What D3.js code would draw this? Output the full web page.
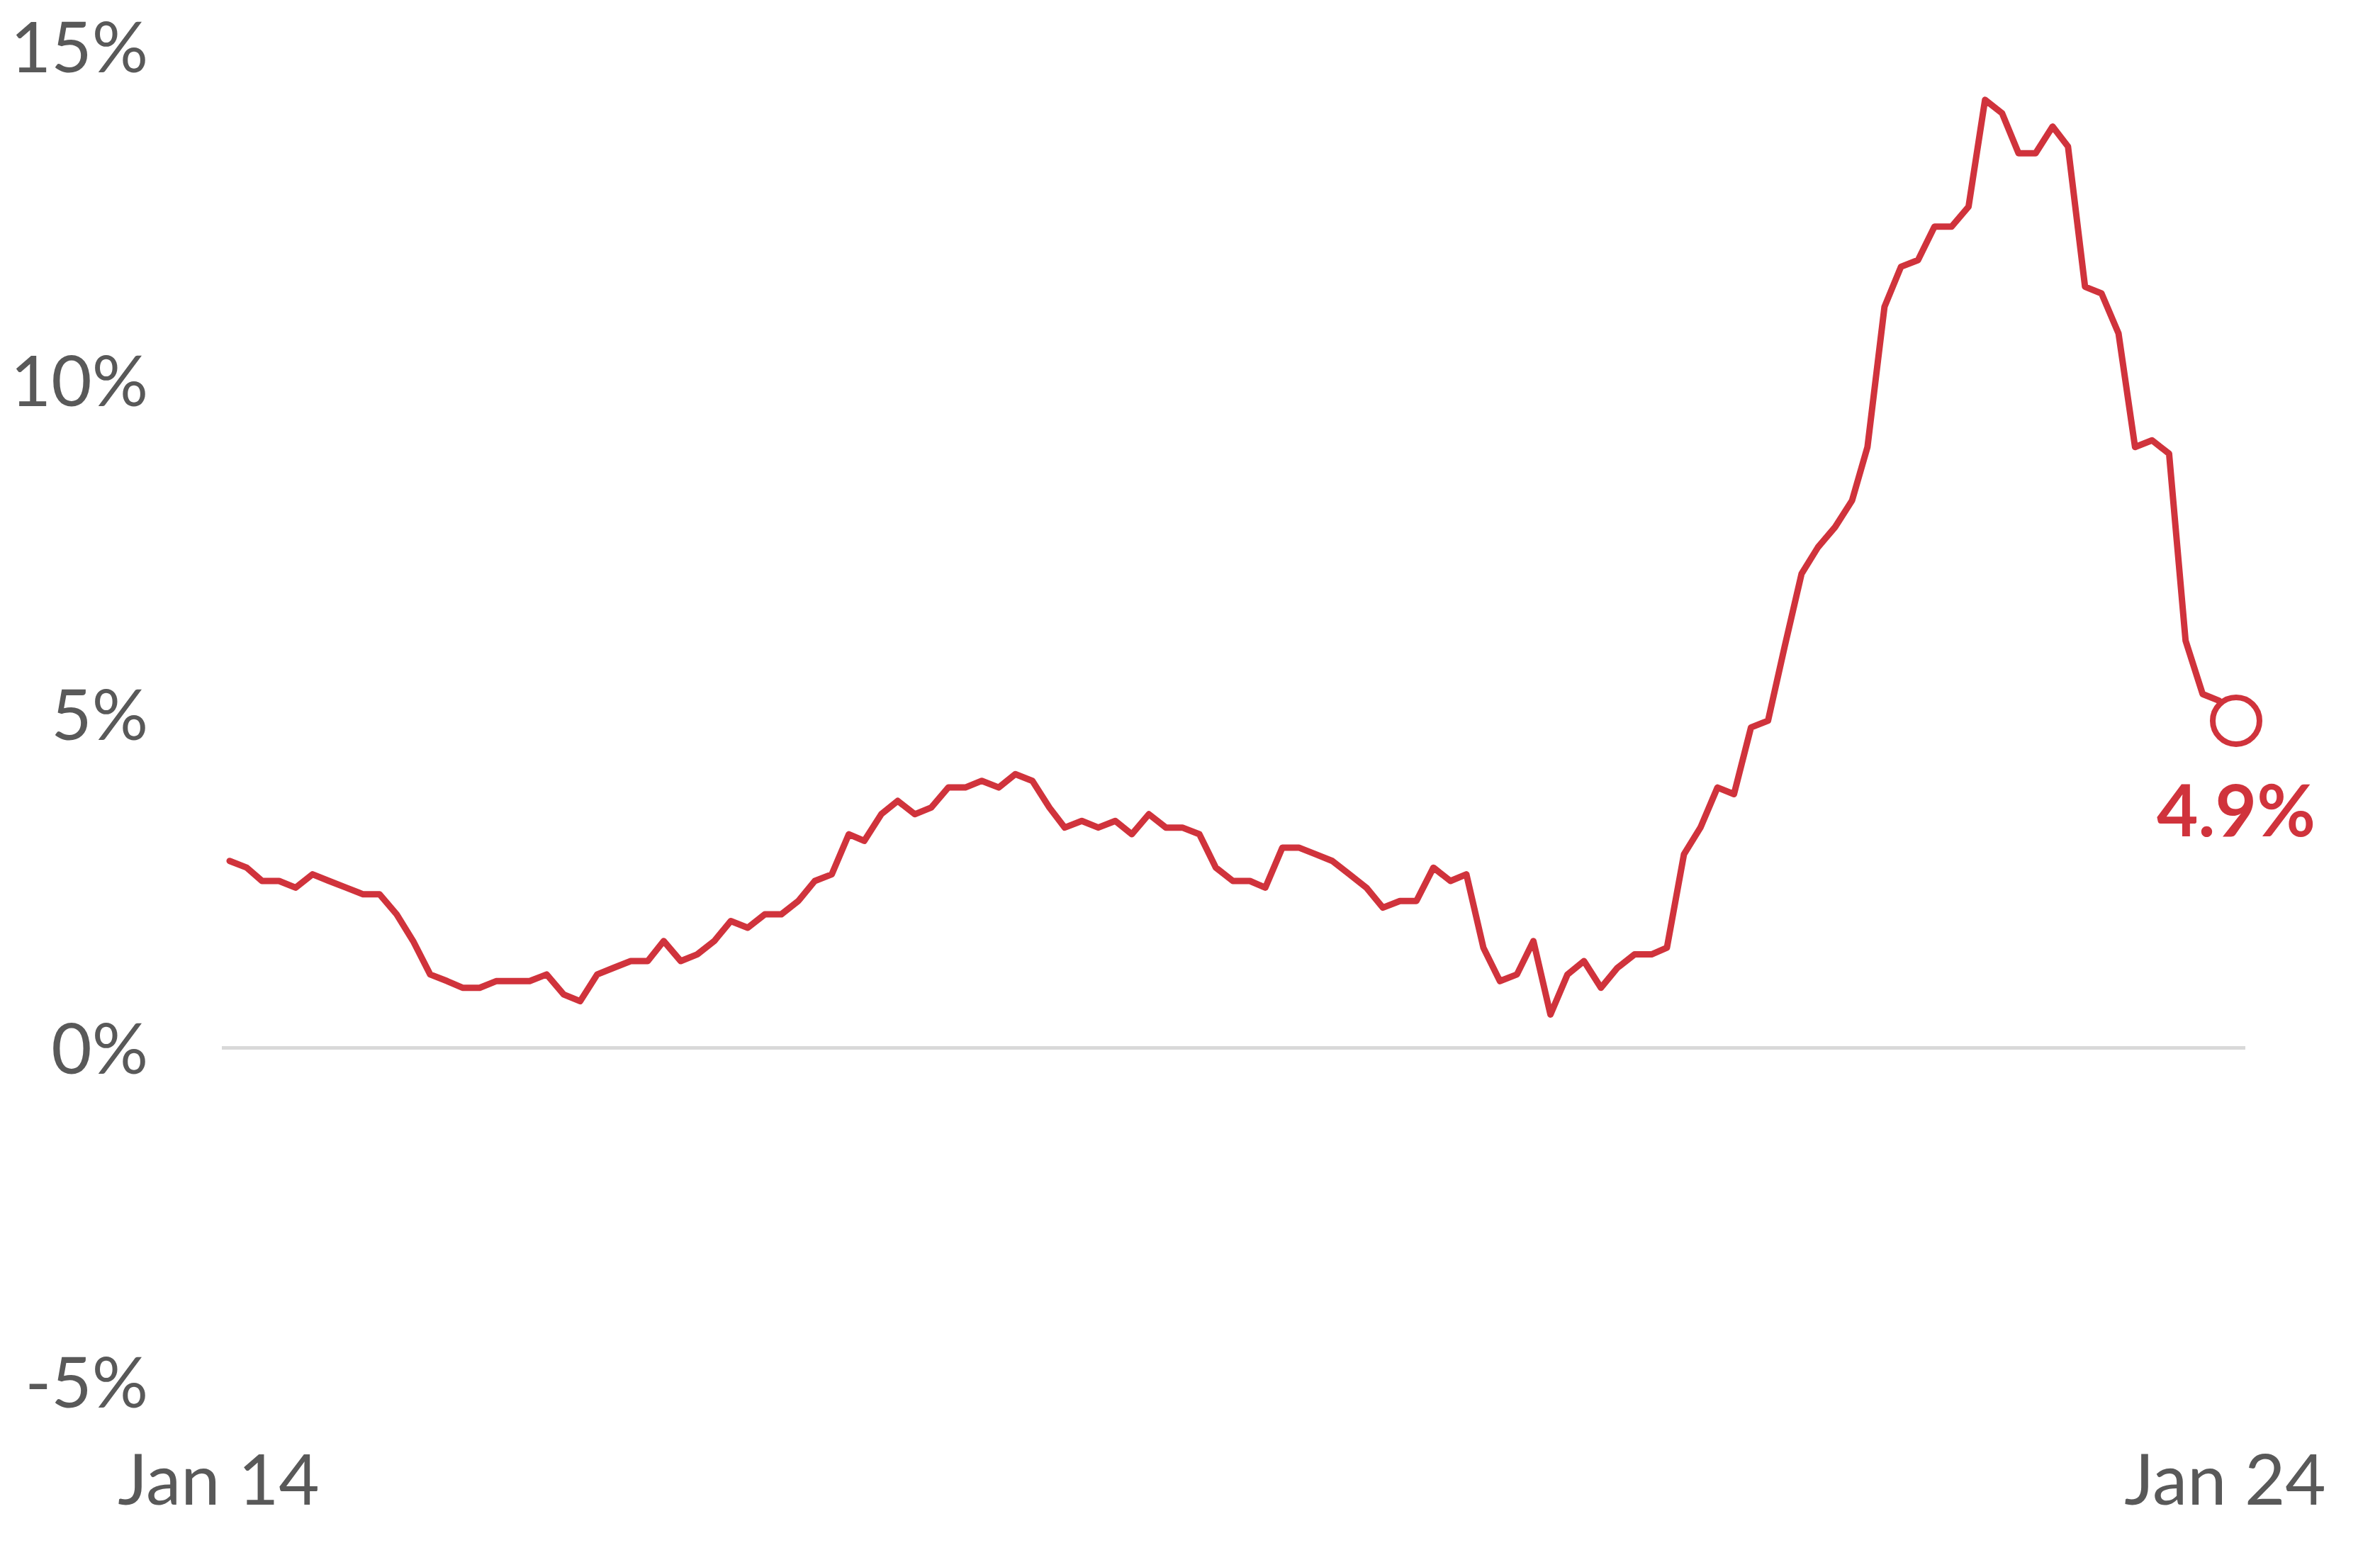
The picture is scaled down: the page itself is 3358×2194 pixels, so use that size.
<!DOCTYPE html>
<html>
<head>
<meta charset="utf-8">
<script src="https://cdn.jsdelivr.net/npm/d3@7"></script>
<style>
  body { margin: 0; background: #fff; }
  svg { display: block; }
</style>
</head>
<body>
<script>
const width = 3358;
const height = 2194;
const lineColor = '#d0333c';
const textColor = '#595959';

// monthly values, Jan 14 .. Jan 24 (%)
const startMonth = new Date(2014, 0, 1);
const values = [
  2.8, 2.7, 2.5, 2.5, 2.4, 2.6, 2.5, 2.4, 2.3, 2.3, 2.0, 1.6,
  1.1, 1.0, 0.9, 0.9, 1.0, 1.0, 1.0, 1.1, 0.8, 0.7, 1.1, 1.2,
  1.3, 1.3, 1.6, 1.3, 1.4, 1.6, 1.9, 1.8, 2.0, 2.0, 2.2, 2.5,
  2.6, 3.2, 3.1, 3.5, 3.7, 3.5, 3.6, 3.9, 3.9, 4.0, 3.9, 4.1,
  4.0, 3.6, 3.3, 3.4, 3.3, 3.4, 3.2, 3.5, 3.3, 3.3, 3.2, 2.7,
  2.5, 2.5, 2.4, 3.0, 3.0, 2.9, 2.8, 2.6, 2.4, 2.1, 2.2, 2.2,
  2.7, 2.5, 2.6, 1.5, 1.0, 1.1, 1.6, 0.5, 1.1, 1.3, 0.9, 1.2,
  1.4, 1.4, 1.5, 2.9, 3.3, 3.9, 3.8, 4.8, 4.9, 6.0, 7.1, 7.5,
  7.8, 8.2, 9.0, 11.1, 11.7, 11.8, 12.3, 12.3, 12.6, 14.2, 14.0, 13.4,
  13.4, 13.8, 13.5, 11.4, 11.3, 10.7, 9.0, 9.1, 8.9, 6.1, 5.3, 5.2,
  4.9
];
const yTicks = [-5, 0, 5, 10, 15];
const xTickLabels = ['Jan 14', 'Jan 24'];

const months = values.map((v, i) => d3.timeMonth.offset(startMonth, i));
const data = months.map((m, i) => ({ date: m, value: values[i] }));
const last = data[data.length - 1];

const x = d3.scaleTime()
  .domain([months[0], last.date])
  .range([324, 3155]);

const y = d3.scaleLinear()
  .domain([-5, 15])
  .range([1949.5, 65.5]);

const svg = d3.select('body').append('svg')
  .attr('width', width)
  .attr('height', height);

// zero line
svg.append('line')
  .attr('x1', x(months[0]) - 11)
  .attr('x2', x(last.date) + 13)
  .attr('y1', y(0))
  .attr('y2', y(0))
  .attr('stroke', '#d9d9d9')
  .attr('stroke-width', 5);

// y axis
const yAxis = svg.append('g')
  .attr('transform', 'translate(209,0)')
  .call(d3.axisLeft(y).tickValues(yTicks).tickSize(0).tickPadding(0)
    .tickFormat(d => d + '%'));
yAxis.select('.domain').remove();
yAxis.selectAll('text')
  .attr('fill', textColor)
  .attr('font-family', 'Lato, "Open Sans", sans-serif')
  .attr('font-size', 99)
  .attr('dy', '0.36em');

// x axis
const xAxis = svg.append('g')
  .attr('transform', 'translate(0,2053)')
  .call(d3.axisBottom(x).tickValues([months[0], last.date]).tickSize(0).tickPadding(0)
    .tickFormat((d, i) => xTickLabels[i]));
xAxis.select('.domain').remove();
xAxis.selectAll('text')
  .attr('fill', textColor)
  .attr('font-family', 'Lato, "Open Sans", sans-serif')
  .attr('font-size', 99)
  .attr('dx', -16)
  .attr('dy', '0.71em');

// series
const line = d3.line()
  .x(d => x(d.date))
  .y(d => y(d.value));

svg.append('path')
  .datum(data)
  .attr('d', line)
  .attr('fill', 'none')
  .attr('stroke', lineColor)
  .attr('stroke-width', 9)
  .attr('stroke-linejoin', 'round')
  .attr('stroke-linecap', 'round');

// last point marker
svg.append('circle')
  .attr('cx', x(last.date))
  .attr('cy', y(last.value))
  .attr('r', 33)
  .attr('fill', '#fff')
  .attr('stroke', lineColor)
  .attr('stroke-width', 8);

svg.append('text')
  .attr('x', x(last.date))
  .attr('y', 1180)
  .attr('text-anchor', 'middle')
  .attr('fill', lineColor)
  .attr('font-family', 'Lato, "Open Sans", sans-serif')
  .attr('font-weight', 'bold')
  .attr('font-size', 101)
  .text(last.value.toFixed(1) + '%');
</script>
</body>
</html>
